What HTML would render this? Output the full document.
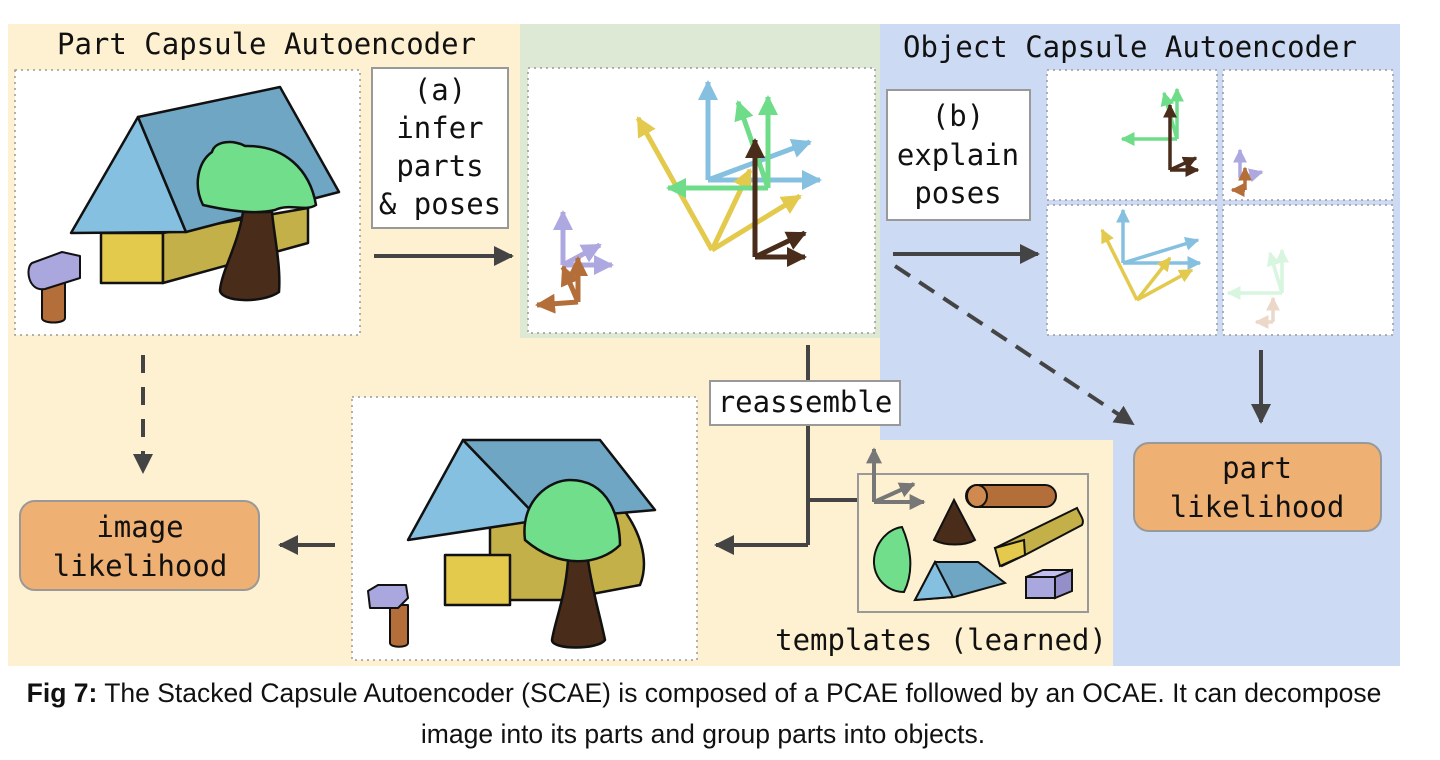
<!DOCTYPE html>
<html><head><meta charset="utf-8"><style>
html,body{margin:0;padding:0;background:#fff;}
svg{display:block;}
.m{font-family:"DejaVu Sans Mono","Liberation Mono",monospace;font-size:29px;fill:#111;}
.cap{font-family:"Liberation Sans",Arial,sans-serif;font-size:26.5px;fill:#111;}
</style></head><body>
<svg width="1440" height="760" viewBox="0 0 1440 760" xmlns="http://www.w3.org/2000/svg">
<defs>
<marker id="ak" viewBox="0 0 10 10" refX="9" refY="5" markerWidth="5" markerHeight="5" orient="auto" markerUnits="strokeWidth"><path d="M0,0L10,5L0,10z" fill="#444"/></marker>
<marker id="ab" viewBox="0 0 10 10" refX="9" refY="5" markerWidth="4" markerHeight="4" orient="auto" markerUnits="strokeWidth"><path d="M0,0L10,5L0,10z" fill="#85c0e0"/></marker>
<marker id="ag" viewBox="0 0 10 10" refX="9" refY="5" markerWidth="4" markerHeight="4" orient="auto" markerUnits="strokeWidth"><path d="M0,0L10,5L0,10z" fill="#6fdc8a"/></marker>
<marker id="ay" viewBox="0 0 10 10" refX="9" refY="5" markerWidth="4" markerHeight="4" orient="auto" markerUnits="strokeWidth"><path d="M0,0L10,5L0,10z" fill="#e3c94c"/></marker>
<marker id="ad" viewBox="0 0 10 10" refX="9" refY="5" markerWidth="4" markerHeight="4" orient="auto" markerUnits="strokeWidth"><path d="M0,0L10,5L0,10z" fill="#4a2c1a"/></marker>
<marker id="ap" viewBox="0 0 10 10" refX="9" refY="5" markerWidth="4" markerHeight="4" orient="auto" markerUnits="strokeWidth"><path d="M0,0L10,5L0,10z" fill="#ada8e0"/></marker>
<marker id="ao" viewBox="0 0 10 10" refX="9" refY="5" markerWidth="4" markerHeight="4" orient="auto" markerUnits="strokeWidth"><path d="M0,0L10,5L0,10z" fill="#b46e3a"/></marker>
<marker id="ag2" viewBox="0 0 10 10" refX="9" refY="5" markerWidth="4" markerHeight="4" orient="auto" markerUnits="strokeWidth"><path d="M0,0L10,5L0,10z" fill="#d8f5df"/></marker>
<marker id="ao2" viewBox="0 0 10 10" refX="9" refY="5" markerWidth="4" markerHeight="4" orient="auto" markerUnits="strokeWidth"><path d="M0,0L10,5L0,10z" fill="#ecd8c8"/></marker>
<marker id="agr" viewBox="0 0 10 10" refX="9" refY="5" markerWidth="4" markerHeight="4" orient="auto" markerUnits="strokeWidth"><path d="M0,0L10,5L0,10z" fill="#777"/></marker>
</defs>
<rect x="8" y="24" width="1392" height="642" fill="#fef1d1"/>
<rect x="520" y="24" width="360" height="314" fill="#dde8d5"/>
<path d="M880,24H1400V666H1113V440H880Z" fill="#ccdaf3"/>

<text class="m" x="57" y="54">Part Capsule Autoencoder</text>
<text class="m" x="903" y="57">Object Capsule Autoencoder</text>

<!-- input image box -->
<rect x="15" y="70" width="345" height="265" fill="#fff" stroke="#999" stroke-width="1.5" stroke-dasharray="2,4"/>
<g stroke="#111" stroke-width="2.5" stroke-linejoin="round">
<polygon points="101,233 163,233 163,283 101,283" fill="#e3c94c"/>
<polygon points="163,233 308,208 308,243 163,283" fill="#c4b048"/>
<polygon points="71,233 138,117 186,232" fill="#86c0e1"/>
<polygon points="138,117 280,87 339,192 186,232" fill="#6fa6c3"/>
<path d="M243,212 C238,245 222,270 220,290 C220,302 262,304 279,292 C281,265 274,235 272,212Z" fill="#4a2c1a"/>
<path d="M203,205 C193,185 198,162 212,152 C215,140 235,140 245,146 C285,145 310,170 316,205 C305,212 290,203 275,210 C255,215 225,210 203,205Z" fill="#71de8b"/>
<path d="M42,282 L42,318 C42,324 65,324 65,318 L65,282Z" fill="#b46e3a" stroke-width="2"/>
<path d="M32,263 L62,252 L80,256 L80,278 L45,289 C28,292 25,268 32,263Z" fill="#aaa6de" stroke-width="2"/>
</g>

<rect x="372" y="68" width="136" height="160" fill="#fff" stroke="#999" stroke-width="2"/>
<text class="m" x="440" y="100" text-anchor="middle">(a)</text>
<text class="m" x="440" y="138" text-anchor="middle">infer</text>
<text class="m" x="440" y="176" text-anchor="middle">parts</text>
<text class="m" x="440" y="214" text-anchor="middle">&amp; poses</text>
<line x1="374" y1="256" x2="512" y2="256" stroke="#444" stroke-width="4" marker-end="url(#ak)"/>

<rect x="528" y="68" width="347" height="265" fill="#fff" stroke="#999" stroke-width="1.5" stroke-dasharray="2,4"/>
<g stroke-width="5" fill="none">
<line x1="708" y1="180" x2="708" y2="82" stroke="#85c0e0" marker-end="url(#ab)"/>
<line x1="708" y1="180" x2="820" y2="180" stroke="#85c0e0" marker-end="url(#ab)"/>
<line x1="708" y1="180" x2="810" y2="142" stroke="#85c0e0" marker-end="url(#ab)"/>
<line x1="712" y1="250" x2="638" y2="118" stroke="#e3c94c" marker-end="url(#ay)"/>
<line x1="712" y1="250" x2="800" y2="196" stroke="#e3c94c" marker-end="url(#ay)"/>
<line x1="712" y1="250" x2="750" y2="170" stroke="#e3c94c" marker-end="url(#ay)"/>
<line x1="768" y1="188" x2="768" y2="97" stroke="#6fdc8a" marker-end="url(#ag)"/>
<line x1="768" y1="188" x2="668" y2="188" stroke="#6fdc8a" marker-end="url(#ag)"/>
<line x1="768" y1="188" x2="738" y2="102" stroke="#6fdc8a" marker-end="url(#ag)"/>
<line x1="755" y1="257" x2="755" y2="140" stroke="#4a2c1a" marker-end="url(#ad)"/>
<line x1="755" y1="257" x2="805" y2="257" stroke="#4a2c1a" marker-end="url(#ad)"/>
<line x1="755" y1="257" x2="805" y2="233" stroke="#4a2c1a" marker-end="url(#ad)"/>
<line x1="563" y1="265" x2="563" y2="212" stroke="#ada8e0" marker-end="url(#ap)"/>
<line x1="563" y1="265" x2="612" y2="265" stroke="#ada8e0" marker-end="url(#ap)"/>
<line x1="563" y1="265" x2="600" y2="245" stroke="#ada8e0" marker-end="url(#ap)"/>
<line x1="578" y1="302" x2="578" y2="258" stroke="#b46e3a" marker-end="url(#ao)"/>
<line x1="578" y1="302" x2="537" y2="305" stroke="#b46e3a" marker-end="url(#ao)"/>
<line x1="578" y1="302" x2="563" y2="267" stroke="#b46e3a" marker-end="url(#ao)"/>
</g>

<rect x="887" y="90" width="143" height="130" fill="#fff" stroke="#999" stroke-width="2"/>
<text class="m" x="958" y="126" text-anchor="middle">(b)</text>
<text class="m" x="958" y="165" text-anchor="middle">explain</text>
<text class="m" x="958" y="203" text-anchor="middle">poses</text>
<line x1="893" y1="254" x2="1038" y2="254" stroke="#444" stroke-width="4" marker-end="url(#ak)"/>
<line x1="895" y1="266" x2="1133" y2="424" stroke="#444" stroke-width="4" stroke-dasharray="18,11" marker-end="url(#ak)"/>

<g fill="#fff" stroke="#999" stroke-width="1.5" stroke-dasharray="2,4">
<rect x="1047" y="70" width="170" height="130"/>
<rect x="1223" y="70" width="170" height="130"/>
<rect x="1047" y="205" width="170" height="130"/>
<rect x="1223" y="205" width="170" height="130"/>
</g>
<g stroke-width="3.5" fill="none">
<line x1="1177" y1="139" x2="1177" y2="89" stroke="#6fdc8a" marker-end="url(#ag)"/>
<line x1="1177" y1="139" x2="1122" y2="139" stroke="#6fdc8a" marker-end="url(#ag)"/>
<line x1="1177" y1="139" x2="1164" y2="93" stroke="#6fdc8a" marker-end="url(#ag)"/>
<line x1="1170" y1="170" x2="1170" y2="105" stroke="#4a2c1a" marker-end="url(#ad)"/>
<line x1="1170" y1="170" x2="1198" y2="170" stroke="#4a2c1a" marker-end="url(#ad)"/>
<line x1="1170" y1="170" x2="1196" y2="158" stroke="#4a2c1a" marker-end="url(#ad)"/>
<line x1="1240" y1="178" x2="1240" y2="150" stroke="#ada8e0" marker-end="url(#ap)"/>
<line x1="1240" y1="178" x2="1262" y2="172" stroke="#ada8e0" marker-end="url(#ap)"/>
<line x1="1245" y1="190" x2="1245" y2="168" stroke="#b46e3a" marker-end="url(#ao)"/>
<line x1="1245" y1="190" x2="1232" y2="190" stroke="#b46e3a" marker-end="url(#ao)"/>
<line x1="1123" y1="263" x2="1123" y2="210" stroke="#85c0e0" marker-end="url(#ab)"/>
<line x1="1123" y1="263" x2="1200" y2="263" stroke="#85c0e0" marker-end="url(#ab)"/>
<line x1="1123" y1="263" x2="1198" y2="240" stroke="#85c0e0" marker-end="url(#ab)"/>
<line x1="1137" y1="300" x2="1102" y2="230" stroke="#e3c94c" marker-end="url(#ay)"/>
<line x1="1137" y1="300" x2="1192" y2="270" stroke="#e3c94c" marker-end="url(#ay)"/>
<line x1="1137" y1="300" x2="1170" y2="258" stroke="#e3c94c" marker-end="url(#ay)"/>
<line x1="1282" y1="293" x2="1282" y2="250" stroke="#d8f5df" marker-end="url(#ag2)"/>
<line x1="1282" y1="293" x2="1228" y2="293" stroke="#d8f5df" marker-end="url(#ag2)"/>
<line x1="1282" y1="293" x2="1270" y2="253" stroke="#d8f5df" marker-end="url(#ag2)"/>
<line x1="1273" y1="322" x2="1273" y2="298" stroke="#ecd8c8" marker-end="url(#ao2)"/>
<line x1="1273" y1="322" x2="1256" y2="322" stroke="#ecd8c8" marker-end="url(#ao2)"/>
</g>

<line x1="1261" y1="350" x2="1261" y2="422" stroke="#444" stroke-width="4" marker-end="url(#ak)"/>
<rect x="1134" y="443" width="247" height="88" rx="15" fill="#eeb073" stroke="#999" stroke-width="2"/>
<text class="m" x="1257" y="478" text-anchor="middle">part</text>
<text class="m" x="1257" y="517" text-anchor="middle">likelihood</text>

<line x1="143" y1="355" x2="143" y2="472" stroke="#444" stroke-width="4" stroke-dasharray="18,14" marker-end="url(#ak)"/>
<rect x="20" y="501" width="239" height="89" rx="15" fill="#eeb073" stroke="#999" stroke-width="2"/>
<text class="m" x="140" y="537" text-anchor="middle">image</text>
<text class="m" x="140" y="576" text-anchor="middle">likelihood</text>
<line x1="335" y1="545" x2="280" y2="545" stroke="#444" stroke-width="4" marker-end="url(#ak)"/>

<rect x="352" y="397" width="345" height="263" fill="#fff" stroke="#999" stroke-width="1.5" stroke-dasharray="2,4"/>
<g stroke="#111" stroke-width="2.5" stroke-linejoin="round">
<path d="M490,520 L560,505 L620,505 C640,530 650,560 640,585 L560,600 L490,600Z" fill="#c4b048"/>
<polygon points="445,555 445,605 510,605 510,555" fill="#e3c94c"/>
<polygon points="408,540 463,440 540,520" fill="#86c0e1"/>
<polygon points="463,440 600,440 655,510 540,520" fill="#6fa6c3"/>
<path d="M568,560 C565,600 555,620 552,640 C552,650 598,650 605,640 C600,615 592,590 588,560Z" fill="#4a2c1a"/>
<path d="M525,540 C520,500 550,480 570,480 C610,480 620,520 620,545 C600,565 560,570 525,540Z" fill="#71de8b"/>
<path d="M390,605 L390,643 C390,648 408,648 408,643 L408,605Z" fill="#b46e3a" stroke-width="2"/>
<polygon points="368,591 370,608 398,608 408,598 406,585 378,585" fill="#aaa6de" stroke-width="2"/>
</g>

<line x1="808" y1="345" x2="808" y2="545" stroke="#444" stroke-width="4"/>
<line x1="808" y1="545" x2="716" y2="545" stroke="#444" stroke-width="4" marker-end="url(#ak)"/>
<line x1="808" y1="500" x2="860" y2="500" stroke="#444" stroke-width="4"/>
<rect x="710" y="381" width="190" height="44" fill="#fff" stroke="#999" stroke-width="2"/>
<text class="m" x="805" y="412" text-anchor="middle">reassemble</text>

<rect x="858" y="474" width="230" height="138" fill="#fef1d1" stroke="#999" stroke-width="2"/>
<g stroke-width="4" fill="none">
<line x1="874" y1="502" x2="874" y2="449" stroke="#777" marker-end="url(#agr)"/>
<line x1="874" y1="502" x2="924" y2="502" stroke="#777" marker-end="url(#agr)"/>
<line x1="874" y1="502" x2="914" y2="484" stroke="#777" marker-end="url(#agr)"/>
</g>
<g stroke="#111" stroke-width="2">
<rect x="966" y="485" width="90" height="22" rx="11" fill="#b46e3a"/>
<ellipse cx="977" cy="496" rx="10" ry="11" fill="#d08a50"/>
<path d="M954,500 L934,540 C945,546 965,546 975,540Z" fill="#4a2c1a"/>
<path d="M902,527 C880,530 865,560 880,580 C888,590 897,592 904,592 C915,570 910,545 902,527Z" fill="#71de8b"/>
<polygon points="935,562 915,600 954,597 1005,583 978,562" fill="#6fa6c3"/>
<polygon points="935,562 915,600 953,597" fill="#86c0e1"/>
<path d="M995,548 L1077,508 C1080,515 1085,520 1082,525 L1025,555 L1002,566Z" fill="#c4b048"/>
<polygon points="995,548 1024,540 1025,555 1000,566" fill="#e3c94c"/>
<polygon points="1026,577 1026,598 1055,598 1055,577" fill="#aaa6de"/>
<polygon points="1055,577 1072,570 1072,591 1055,598" fill="#948fc8"/>
<polygon points="1026,577 1043,570 1072,570 1055,577" fill="#c3bef0"/>
</g>
<text class="m" x="941" y="650" text-anchor="middle">templates (learned)</text>

<text class="cap" x="704" y="702" text-anchor="middle"><tspan font-weight="bold">Fig 7:</tspan> The Stacked Capsule Autoencoder (SCAE) is composed of a PCAE followed by an OCAE. It can decompose</text>
<text class="cap" x="703" y="743" text-anchor="middle">image into its parts and group parts into objects.</text>
</svg>
</body></html>
